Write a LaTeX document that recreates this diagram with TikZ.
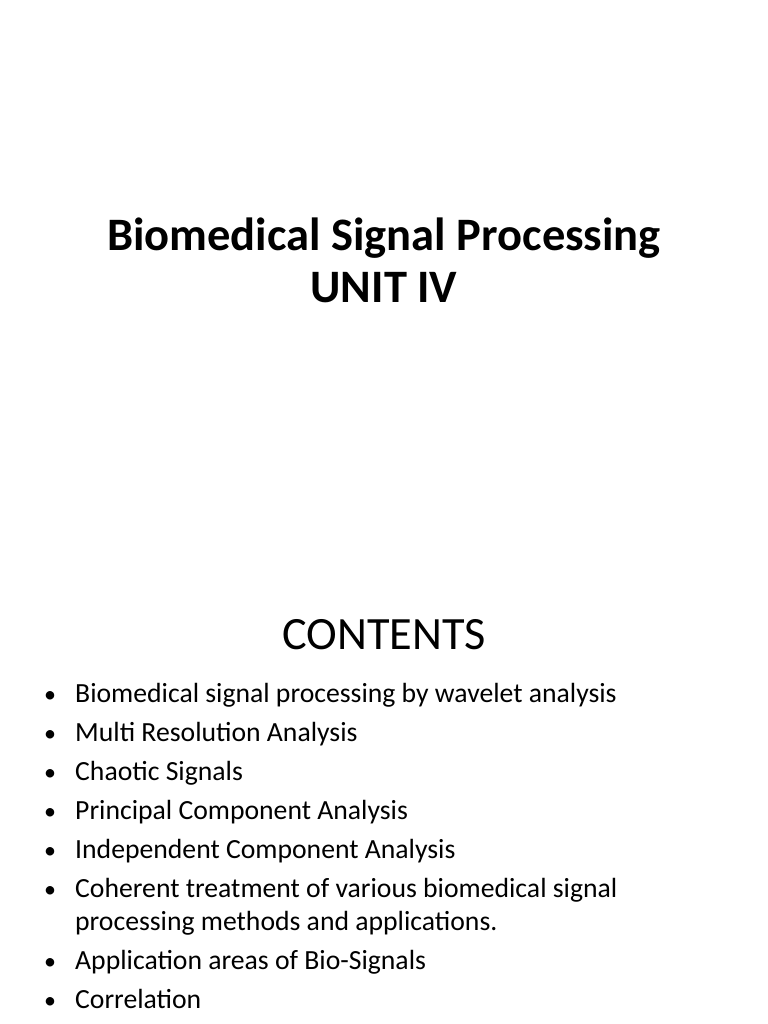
\documentclass[tikz,border=0pt]{standalone}
\usepackage{fontspec}
\setmainfont{Carlito}
\begin{document}
\begin{tikzpicture}[x=1bp,y=-1bp,
  title/.style={font=\fontsize{46.5bp}{52bp}\selectfont\bfseries,anchor=base,inner sep=0},
  item/.style={font=\fontsize{27.7bp}{33bp}\selectfont,anchor=base west,align=left,inner sep=0},
  dot/.style={font=\fontsize{24bp}{33bp}\selectfont,anchor=base west,inner sep=0}]
\useasboundingbox[fill=white] (0,0) rectangle (768,1024);
\node[title] (t1) at (384,250) {Biomedical Signal Processing};
\node[title] (t2) at (384,302) {UNIT IV};
\node[font=\fontsize{46.3bp}{50bp}\selectfont,anchor=base,inner sep=0] (c) at (384,649) {CONTENTS};
\foreach \y/\t [count=\i] in {702/Biomedical signal processing by wavelet analysis,
  741/Multi Resolution Analysis, 780/Chaotic Signals, 819/Principal Component Analysis,
  858/Independent Component Analysis, 897/Coherent treatment of various biomedical signal,
  969/Application areas of Bio-Signals, 1008/Correlation}{
  \node[dot] (b\i) at (44,\y) {•};
  \node[item] (i\i) at (75,\y) {\t};
}
\node[item] (i6b) at (75,930) {processing methods and applications.};
\end{tikzpicture}
\end{document}
